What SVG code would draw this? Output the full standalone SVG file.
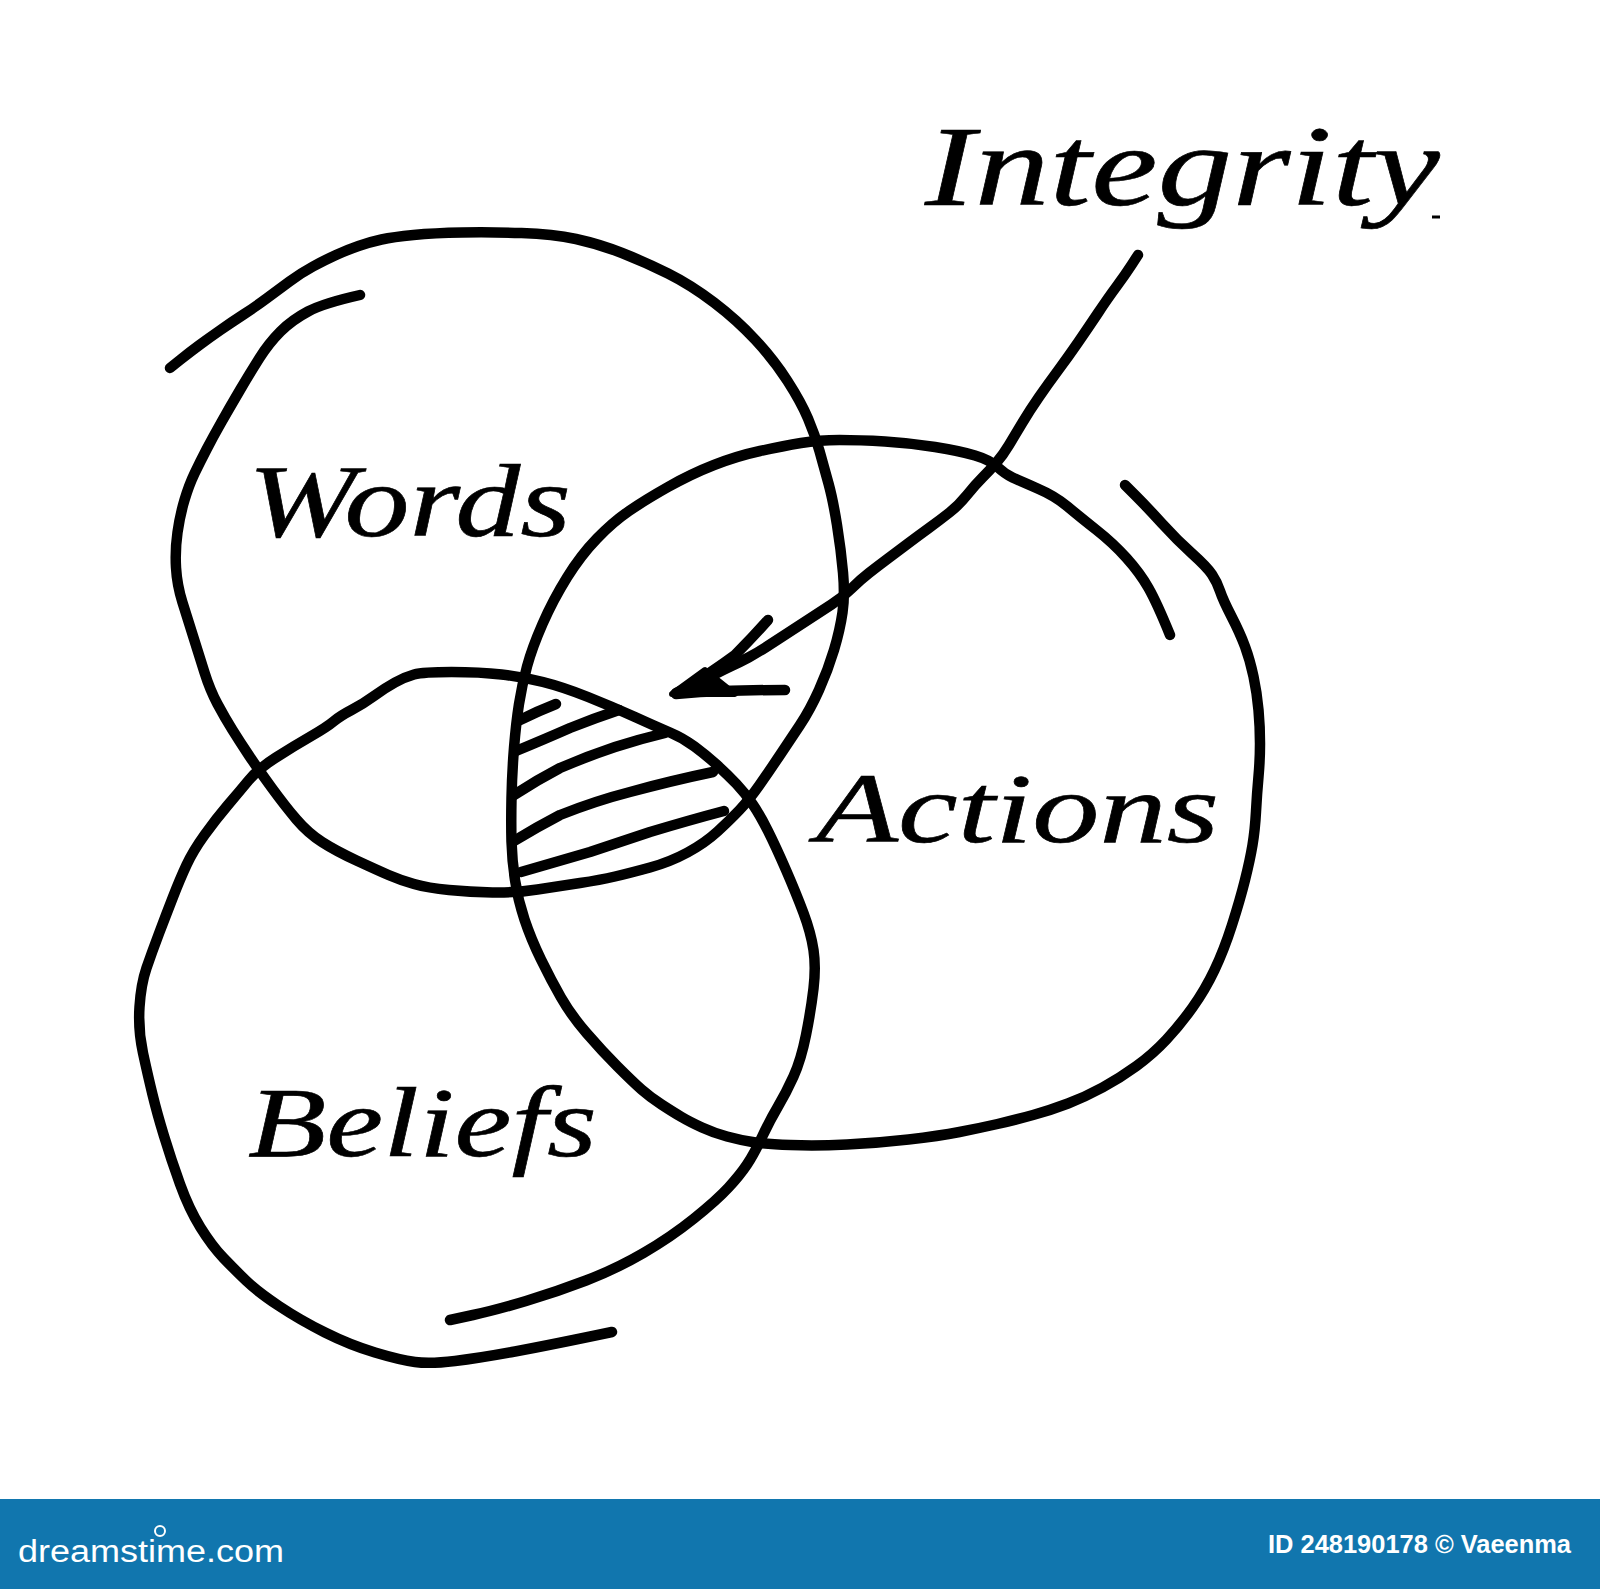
<svg xmlns="http://www.w3.org/2000/svg" width="1600" height="1589" viewBox="0 0 1600 1589">
<style>
.ln{fill:none;stroke:#000;stroke-width:10.5;stroke-linecap:round;stroke-linejoin:round}
.lbl{font-family:"Liberation Serif","DejaVu Serif",serif;font-style:italic;fill:#000;stroke:#000;stroke-width:0.6}
.foot{font-family:"Liberation Sans","DejaVu Sans",sans-serif;fill:#fff}
</style>
<rect x="0" y="0" width="1600" height="1589" fill="#fff"/>
<g id="words">
<path class="ln" d="M170,368 L180,360 Q190,352 199.5,345 Q209,338 220.5,330 Q232,322 243.5,314.5 Q255,307 266.5,298.5 Q278,290 289.5,281.5 Q301,273 313,266.5 Q325,260 336,255 Q347,250 358.5,246 Q370,242 381.5,239.5 Q393,237 413.5,235 Q434,233 462,232.5 Q490,232 521.5,233 Q553,234 576,239 Q599,244 622,253 Q645,262 668,273.5 Q691,285 714,302.5 Q737,320 755.5,340 Q774,360 787.5,381 Q801,402 808,418.5 Q815,435 819.5,451 Q824,467 828.5,483.5 Q833,500 837,525 Q841,550 843,572.5 Q845,595 842.5,612.5 Q840,630 834,650 Q828,670 819,690 Q810,710 800,725 Q790,740 780,755 Q770,770 759.5,785 Q749,800 739.5,810 Q730,820 717.5,831.5 Q705,843 687.5,852.5 Q670,862 650,867.5 Q630,873 615,876.5 Q600,880 580,883 Q560,886 537.5,889.5 Q515,893 492.5,892.5 Q470,892 449,890 Q428,888 414,884 Q400,880 388.5,875 Q377,870 356.5,860.5 Q336,851 322,842 Q308,833 296.5,819.5 Q285,806 271.5,787.5 Q258,769 249,755.5 Q240,742 232.5,730 Q225,718 217.5,704 Q210,690 204.5,672.5 Q199,655 193.5,637.5 Q188,620 182.5,602.5 Q177,585 176,567.5 Q175,550 177.5,532.5 Q180,515 184.5,500 Q189,485 194.5,473.5 Q200,462 206.5,449.5 Q213,437 221.5,422 Q230,407 240,390 Q250,373 259.5,358 Q269,343 280.5,331.5 Q292,320 308,311.5 Q324,303 360,295"/>
<text class="lbl" x="248" y="536" font-size="104" textLength="323" lengthAdjust="spacingAndGlyphs">Words</text>
</g>
<g id="actions">
<path class="ln" d="M1125,485 L1136,496 Q1147,507 1162,523.5 Q1177,540 1192,553.5 Q1207,567 1212,574.5 Q1217,582 1220,591 Q1223,600 1231.5,616.5 Q1240,633 1245,646.5 Q1250,660 1253.5,676.5 Q1257,693 1258.5,710 Q1260,727 1260,743.5 Q1260,760 1258.5,776.5 Q1257,793 1256,811.5 Q1255,830 1252.5,845 Q1250,860 1245,880 Q1240,900 1232,925 Q1224,950 1214.5,970 Q1205,990 1192.5,1007.5 Q1180,1025 1166.5,1039.5 Q1153,1054 1136.5,1066 Q1120,1078 1102.5,1087.5 Q1085,1097 1068,1103.5 Q1051,1110 1033,1115 Q1015,1120 997.5,1124 Q980,1128 959.5,1132 Q939,1136 908.5,1139.5 Q878,1143 847,1144.5 Q816,1146 790.5,1145 Q765,1144 752.5,1142 Q740,1140 727,1136.5 Q714,1133 702,1127.5 Q690,1122 681.5,1117 Q673,1112 661.5,1104.5 Q650,1097 641.5,1089.5 Q633,1082 617.5,1066.5 Q602,1051 586.5,1033 Q571,1015 561,997.5 Q551,980 541,959.5 Q531,939 524.5,919.5 Q518,900 515,880 Q512,860 511.5,841.5 Q511,823 511.5,798 Q512,773 514,748 Q516,723 519,704 Q522,685 527,666.5 Q532,648 542.5,624 Q553,600 567,577.5 Q581,555 597,538.5 Q613,522 629,511 Q645,500 668,487 Q691,474 714,465 Q737,456 760,451 Q783,446 801,443 Q819,440 839.5,440 Q860,440 885,441.5 Q910,443 935,447 Q960,451 975,455.5 Q990,460 997.5,467 Q1005,474 1012.5,477.5 Q1020,481 1037.5,488.5 Q1055,496 1067.5,506.5 Q1080,517 1096.5,530 Q1113,543 1126.5,558 Q1140,573 1148.5,588 Q1157,603 1170,635"/>
<text class="lbl" x="816" y="842" font-size="100" textLength="403" lengthAdjust="spacingAndGlyphs">Actions</text>
</g>
<g id="beliefs">
<path class="ln" d="M450,1320 L473,1315 Q496,1310 526,1301 Q556,1292 586,1280.5 Q616,1269 643.5,1253 Q671,1237 694,1218.5 Q717,1200 728.5,1187.5 Q740,1175 747,1164.5 Q754,1154 762,1137 Q770,1120 778,1106.5 Q786,1093 793.5,1076.5 Q801,1060 806,1035 Q811,1010 813.5,988.5 Q816,967 813.5,950 Q811,933 803.5,913 Q796,893 786,870 Q776,847 768,831 Q760,815 752.5,804 Q745,793 736.5,784 Q728,775 717,765 Q706,755 694.5,746.5 Q683,738 670,732.5 Q657,727 635,717 Q613,707 588,697 Q563,687 543,682 Q523,677 501.5,674.5 Q480,672 451.5,672 Q423,672 414,674.5 Q405,677 395,682.5 Q385,688 374,696 Q363,704 351.5,710 Q340,716 333.5,721.5 Q327,727 310.5,736.5 Q294,746 276,757.5 Q258,769 248.5,780.5 Q239,792 227.5,805.5 Q216,819 204.5,835 Q193,851 186.5,865 Q180,879 173,897 Q166,915 159,933.5 Q152,952 146.5,968 Q141,984 139.5,1007 Q138,1030 143,1053 Q148,1076 152.5,1094.5 Q157,1113 164,1136 Q171,1159 180,1184 Q189,1209 200.5,1227.5 Q212,1246 223.5,1258 Q235,1270 246.5,1281 Q258,1292 279,1306 Q300,1320 325,1332.5 Q350,1345 375,1352.5 Q400,1360 415,1362 Q430,1364 455,1361 Q480,1358 515,1351.5 Q550,1345 612,1332"/>
<text class="lbl" x="248" y="1156" font-size="100" textLength="349" lengthAdjust="spacingAndGlyphs">Beliefs</text>
</g>
<g id="intersection">
<path class="ln" d="M520,720 Q538,711 556,704"/>
<path class="ln" d="M516,751 Q545,739 570,728 Q595,718 619,710"/>
<path class="ln" d="M514,795 Q537,780 560,768 Q588,756 615,747 Q640,739 665,733"/>
<path class="ln" d="M514,841 Q537,827 560,815 Q595,801 630,792 Q670,781 713,772"/>
<path class="ln" d="M521,872 Q555,862 590,852 Q620,842 650,832 Q690,820 724,811"/>
</g>
<g id="integrity">
<text class="lbl" x="925" y="205" font-size="114" textLength="515" lengthAdjust="spacingAndGlyphs">Integrity</text>
<path d="M1432,217 L1440,217" stroke="#000" stroke-width="3"/>
</g>
<g id="connectors">
<path class="ln" d="M1138,255 L1131.5,265 Q1125,275 1116.5,286.5 Q1108,298 1098,313 Q1088,328 1078,342.5 Q1068,357 1058,370.5 Q1048,384 1039,397 Q1030,410 1022.5,422.5 Q1015,435 1009,445 Q1003,455 996.5,462.5 Q990,470 982.5,477.5 Q975,485 967,495 Q959,505 949.5,512.5 Q940,520 929,528 Q918,536 908,543.5 Q898,551 888,558.5 Q878,566 869,573 Q860,580 851.5,588.5 Q843,597 831.5,604.5 Q820,612 808.5,619.5 Q797,627 787,633.5 Q777,640 767,646.5 Q757,653 748.5,657.5 Q740,662 731.5,666 Q723,670 711.5,676 Q700,682 676,693"/>
<path class="ln" d="M768,620 Q752,638 735,655 Q712,672 680,692"/>
<path class="ln" d="M785,690 Q740,690 700,692 L676,694"/>
<polygon points="672,694 705,670 735,694" fill="#000" stroke="#000" stroke-width="6" stroke-linejoin="round"/>
</g>
<g id="footer">
<rect x="0" y="1499" width="1600" height="90" fill="#1176ae"/>
<text class="foot" x="18" y="1562" font-size="31" textLength="266" lengthAdjust="spacingAndGlyphs">dreamstime.com</text>
<circle cx="160" cy="1531" r="5" fill="none" stroke="#fff" stroke-width="2"/>
<text class="foot" x="1268" y="1553" font-size="25" font-weight="bold" textLength="303" lengthAdjust="spacingAndGlyphs">ID 248190178 © Vaeenma</text>
</g>
</svg>
